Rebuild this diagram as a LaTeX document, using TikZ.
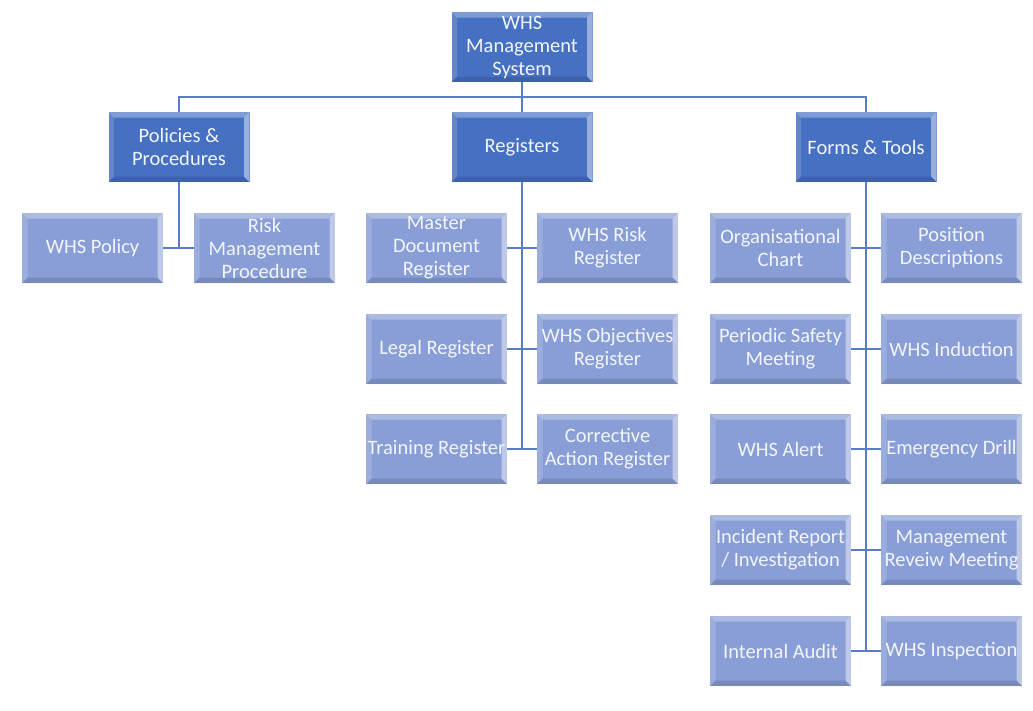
\documentclass[tikz,border=0pt]{standalone}
\usepackage{fontspec}
\setmainfont{Carlito}
\definecolor{dk}{HTML}{4670C2}
\definecolor{lt}{HTML}{899ED6}
\definecolor{ln}{HTML}{587DC6}
\definecolor{txt}{HTML}{F2F5FB}
\newcommand{\bvw}{5.5pt}
\tikzset{
  bevel/.style={path picture={
    \fill[white,opacity=.30] (path picture bounding box.north west) -- (path picture bounding box.north east)
      -- ([shift={(-\bvw,-\bvw)}]path picture bounding box.north east) -- ([shift={(\bvw,-\bvw)}]path picture bounding box.north west) -- cycle;
    \fill[white,opacity=.16] (path picture bounding box.north west) -- (path picture bounding box.south west)
      -- ([shift={(\bvw,\bvw)}]path picture bounding box.south west) -- ([shift={(\bvw,-\bvw)}]path picture bounding box.north west) -- cycle;
    \fill[white,opacity=.45] (path picture bounding box.north east) -- (path picture bounding box.south east)
      -- ([shift={(-\bvw,\bvw)}]path picture bounding box.south east) -- ([shift={(-\bvw,-\bvw)}]path picture bounding box.north east) -- cycle;
    \fill[black,opacity=.12] (path picture bounding box.south west) -- (path picture bounding box.south east)
      -- ([shift={(-\bvw,\bvw)}]path picture bounding box.south east) -- ([shift={(\bvw,\bvw)}]path picture bounding box.south west) -- cycle;
  }},
  box/.style={bevel, minimum width=141pt, minimum height=70pt, inner sep=0pt, text=txt,
    font=\fontsize{20.5}{23}\selectfont, align=center},
  dkbox/.style={box, fill=dk},
  ltbox/.style={box, fill=lt},
  conn/.style={draw=ln, line width=2.7pt},
}
\begin{document}
\begin{tikzpicture}[x=1pt,y=-1pt]
\useasboundingbox[fill=white] (0,0) rectangle (1033,710);
% level 1 and 2
\node[dkbox] (top) at (522,47) {WHS\\Management\\System};
\node[dkbox] (pol) at (179,147) {Policies \&\\Procedures};
\node[dkbox] (reg) at (522,147) {Registers};
\node[dkbox] (frm) at (866,147) {Forms \& Tools};
% policies
\node[ltbox] (p1) at (92.5,248) {WHS Policy};
\node[ltbox] (p2) at (264.5,248) {Risk\\Management\\Procedure};
% registers
\node[ltbox] (r1l) at (436.5,248) {Master\\Document\\Register};
\node[ltbox] (r1r) at (607.5,248) {WHS Risk\\Register};
\node[ltbox] (r2l) at (436.5,349) {Legal Register};
\node[ltbox] (r2r) at (607.5,349) {WHS Objectives\\Register};
\node[ltbox] (r3l) at (436.5,449) {Training Register};
\node[ltbox] (r3r) at (607.5,449) {Corrective\\Action Register};
% forms
\node[ltbox] (f1l) at (780.5,248) {Organisational\\Chart};
\node[ltbox] (f1r) at (951.5,248) {Position\\Descriptions};
\node[ltbox] (f2l) at (780.5,349) {Periodic Safety\\Meeting};
\node[ltbox] (f2r) at (951.5,349) {WHS Induction};
\node[ltbox] (f3l) at (780.5,449) {WHS Alert};
\node[ltbox] (f3r) at (951.5,449) {Emergency Drill};
\node[ltbox] (f4l) at (780.5,550) {Incident Report\\/ Investigation};
\node[ltbox] (f4r) at (951.5,550) {Management\\Reveiw Meeting};
\node[ltbox] (f5l) at (780.5,651) {Internal Audit};
\node[ltbox] (f5r) at (951.5,651) {WHS Inspection};
% connectors
\coordinate (bus) at (522,97);
\draw[conn] (top.south) -- (reg.north);
\draw[conn] (pol.north) |- (bus) -| (frm.north);
\draw[conn] (pol.south) |- (p1.east);
\draw[conn] (pol.south |- p1.east) -- (p2.west);
\draw[conn] (reg.south) -- (reg.south |- r3l.east);
\foreach \r in {1,2,3} \draw[conn] (r\r l.east) -- (r\r r.west);
\draw[conn] (frm.south) -- (frm.south |- f5l.east);
\foreach \r in {1,...,5} \draw[conn] (f\r l.east) -- (f\r r.west);
\end{tikzpicture}
\end{document}
